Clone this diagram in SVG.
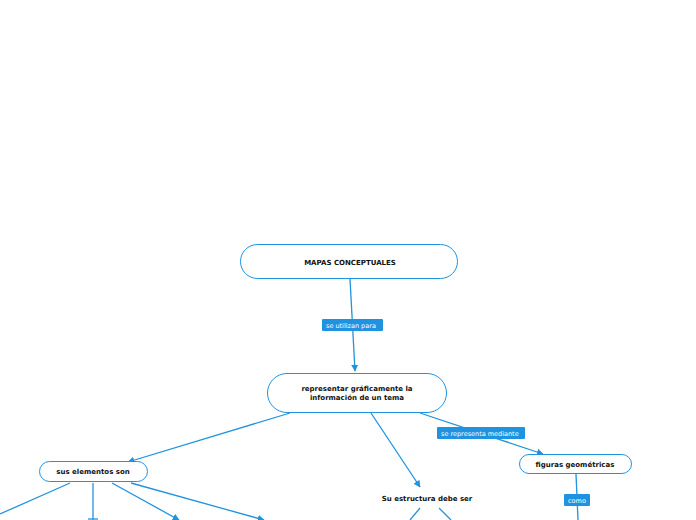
<svg xmlns="http://www.w3.org/2000/svg" width="696" height="520" viewBox="0 0 696 520">
<style>
.n{fill:#fff;stroke:#1f93e0;stroke-width:1}
.t{font-family:"DejaVu Sans",sans-serif;font-size:7px;font-weight:bold;fill:#111;text-anchor:middle}
.c{stroke:#1f93e0;stroke-width:1.3;fill:none}
.lb{fill:#1f93e0}
.lt{font-family:"DejaVu Sans",sans-serif;font-size:6.5px;fill:#fff}
</style>
<defs><marker id="a" viewBox="0 0 10 10" refX="9" refY="5" markerWidth="7" markerHeight="7" orient="auto" markerUnits="userSpaceOnUse"><path d="M0,0L10,5L0,10z" fill="#1f93e0"/></marker></defs>
<rect width="696" height="520" fill="#fff"/>
<g id="connectors">
<path class="c" d="M350,279L355,371" marker-end="url(#a)"/>
<path class="c" d="M290,413L128,462" marker-end="url(#a)"/>
<path class="c" d="M371,413L420,487" marker-end="url(#a)"/>
<path class="c" d="M420,413L543,454" marker-end="url(#a)"/>
<path class="c" d="M70,483L0,514"/>
<path class="c" d="M93,483L93,520"/>
<path class="c" d="M112,483L179,520" marker-end="url(#a)"/>
<path class="c" d="M131,483L264,520" marker-end="url(#a)"/>
<path class="c" d="M420,508L410,520"/>
<path class="c" d="M439,508L451,520"/>
<path class="c" d="M576,474L578,520"/>
<path class="c" d="M88,519L98,519"/>
<rect class="lb" x="322" y="319" width="61" height="12" rx="1"/>
<text class="lt" x="326" y="327.5">se utilizan para</text>
<rect class="lb" x="437" y="427" width="88" height="12" rx="1"/>
<text class="lt" x="441" y="435.5">se representa mediante</text>
<rect class="lb" x="564" y="494" width="26" height="12" rx="1"/>
<text class="lt" x="568" y="502.5">como</text>
</g>
<g id="n1"><rect class="n" x="240.500" y="244.500" width="217" height="34" rx="17"/><text class="t" x="350" y="264.5">MAPAS CONCEPTUALES</text></g>
<g id="n2"><rect class="n" x="267.500" y="373.500" width="179" height="39" rx="19.500"/><text class="t" x="357" y="391">representar gráficamente la</text><text class="t" x="357" y="400">información de un tema</text></g>
<g id="n3"><rect class="n" x="39.500" y="461.500" width="108" height="20" rx="10"/><text class="t" x="93" y="474">sus elementos son</text></g>
<g id="n4"><text class="t" x="427" y="500.500">Su estructura debe ser</text></g>
<g id="n5"><rect class="n" x="519.500" y="454.500" width="112" height="19" rx="9.500"/><text class="t" x="575" y="466.500">figuras geométricas</text></g>
</svg>
